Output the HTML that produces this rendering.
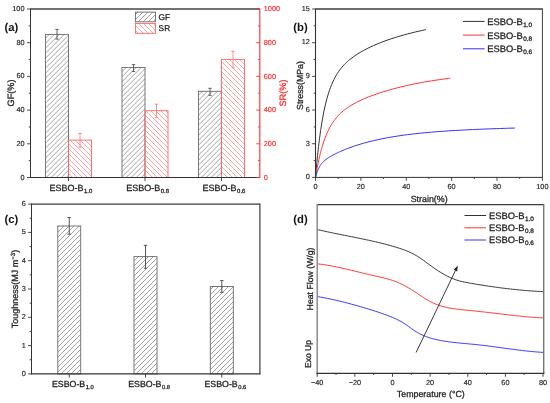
<!DOCTYPE html><html><head><meta charset="utf-8"><style>html,body{margin:0;padding:0;background:#fff;overflow:hidden}svg{display:block;will-change:transform}text{font-family:"Liberation Sans",sans-serif;text-rendering:geometricPrecision;stroke:currentColor;stroke-width:0.28px;paint-order:stroke}.t{stroke-width:0.15px}</style></head><body>
<svg width="550" height="403" viewBox="0 0 550 403">
<rect width="550" height="403" fill="#fff"/>
<defs>
<pattern id="hg" patternUnits="userSpaceOnUse" width="5" height="5" x="3.7" y="0"><path d="M-1,1 L1,-1 M0,5 L5,0 M4,6 L6,4" stroke="#a2a2a2" stroke-width="1.0"/></pattern>
<pattern id="hg2" patternUnits="userSpaceOnUse" width="5" height="5" x="0" y="0"><path d="M-1,1 L1,-1 M0,5 L5,0 M4,6 L6,4" stroke="#a2a2a2" stroke-width="1.0"/></pattern>
<pattern id="hr" patternUnits="userSpaceOnUse" width="5" height="5" x="0" y="0"><path d="M-1,4 L1,6 M0,0 L5,5 M4,-1 L6,1" stroke="#ffa4a4" stroke-width="1.0"/></pattern>
</defs>
<rect x="45.5" y="34.4" width="23.00" height="143.10" fill="url(#hg)" stroke="#6a6a6a" stroke-width="0.9"/>
<rect x="122.0" y="67.5" width="23.00" height="110.00" fill="url(#hg)" stroke="#6a6a6a" stroke-width="0.9"/>
<rect x="198.5" y="91.3" width="23.00" height="86.20" fill="url(#hg)" stroke="#6a6a6a" stroke-width="0.9"/>
<rect x="68.5" y="140.1" width="23.00" height="37.40" fill="url(#hr)" stroke="#ff6464" stroke-width="0.9"/>
<rect x="145.0" y="110.7" width="23.00" height="66.80" fill="url(#hr)" stroke="#ff6464" stroke-width="0.9"/>
<rect x="221.5" y="59.4" width="23.00" height="118.10" fill="url(#hr)" stroke="#ff6464" stroke-width="0.9"/>
<line x1="57.00" y1="29.40" x2="57.00" y2="39.10" stroke="#555" stroke-width="0.9"/>
<line x1="55.30" y1="29.40" x2="58.70" y2="29.40" stroke="#555" stroke-width="0.9"/>
<line x1="55.30" y1="39.10" x2="58.70" y2="39.10" stroke="#555" stroke-width="0.9"/>
<line x1="133.50" y1="64.60" x2="133.50" y2="71.50" stroke="#555" stroke-width="0.9"/>
<line x1="131.80" y1="64.60" x2="135.20" y2="64.60" stroke="#555" stroke-width="0.9"/>
<line x1="131.80" y1="71.50" x2="135.20" y2="71.50" stroke="#555" stroke-width="0.9"/>
<line x1="210.00" y1="88.30" x2="210.00" y2="95.30" stroke="#555" stroke-width="0.9"/>
<line x1="208.30" y1="88.30" x2="211.70" y2="88.30" stroke="#555" stroke-width="0.9"/>
<line x1="208.30" y1="95.30" x2="211.70" y2="95.30" stroke="#555" stroke-width="0.9"/>
<line x1="80.00" y1="133.40" x2="80.00" y2="147.20" stroke="#ff8080" stroke-width="0.9"/>
<line x1="78.30" y1="133.40" x2="81.70" y2="133.40" stroke="#ff8080" stroke-width="0.9"/>
<line x1="78.30" y1="147.20" x2="81.70" y2="147.20" stroke="#ff8080" stroke-width="0.9"/>
<line x1="156.50" y1="104.20" x2="156.50" y2="117.60" stroke="#ff8080" stroke-width="0.9"/>
<line x1="154.80" y1="104.20" x2="158.20" y2="104.20" stroke="#ff8080" stroke-width="0.9"/>
<line x1="154.80" y1="117.60" x2="158.20" y2="117.60" stroke="#ff8080" stroke-width="0.9"/>
<line x1="233.00" y1="51.30" x2="233.00" y2="67.80" stroke="#ff8080" stroke-width="0.9"/>
<line x1="231.30" y1="51.30" x2="234.70" y2="51.30" stroke="#ff8080" stroke-width="0.9"/>
<line x1="231.30" y1="67.80" x2="234.70" y2="67.80" stroke="#ff8080" stroke-width="0.9"/>
<line x1="30.50" y1="9.00" x2="259.80" y2="9.00" stroke="#444" stroke-width="1.4"/>
<line x1="30.50" y1="8.50" x2="30.50" y2="178.00" stroke="#333" stroke-width="1.0"/>
<line x1="30.00" y1="177.50" x2="259.80" y2="177.50" stroke="#333" stroke-width="1.0"/>
<line x1="259.80" y1="8.40" x2="259.80" y2="178.00" stroke="#ff4a4a" stroke-width="1.3"/>
<line x1="27.10" y1="177.50" x2="30.50" y2="177.50" stroke="#333" stroke-width="0.9"/>
<text class="t" x="24.50" y="179.50" font-size="7.3" text-anchor="end" fill="#222" color="#222">0</text>
<line x1="28.70" y1="160.65" x2="30.50" y2="160.65" stroke="#333" stroke-width="0.9"/>
<line x1="27.10" y1="143.80" x2="30.50" y2="143.80" stroke="#333" stroke-width="0.9"/>
<text class="t" x="24.50" y="145.80" font-size="7.3" text-anchor="end" fill="#222" color="#222">20</text>
<line x1="28.70" y1="126.95" x2="30.50" y2="126.95" stroke="#333" stroke-width="0.9"/>
<line x1="27.10" y1="110.10" x2="30.50" y2="110.10" stroke="#333" stroke-width="0.9"/>
<text class="t" x="24.50" y="112.10" font-size="7.3" text-anchor="end" fill="#222" color="#222">40</text>
<line x1="28.70" y1="93.25" x2="30.50" y2="93.25" stroke="#333" stroke-width="0.9"/>
<line x1="27.10" y1="76.40" x2="30.50" y2="76.40" stroke="#333" stroke-width="0.9"/>
<text class="t" x="24.50" y="78.40" font-size="7.3" text-anchor="end" fill="#222" color="#222">60</text>
<line x1="28.70" y1="59.55" x2="30.50" y2="59.55" stroke="#333" stroke-width="0.9"/>
<line x1="27.10" y1="42.70" x2="30.50" y2="42.70" stroke="#333" stroke-width="0.9"/>
<text class="t" x="24.50" y="44.70" font-size="7.3" text-anchor="end" fill="#222" color="#222">80</text>
<line x1="28.70" y1="25.85" x2="30.50" y2="25.85" stroke="#333" stroke-width="0.9"/>
<line x1="27.10" y1="9.00" x2="30.50" y2="9.00" stroke="#333" stroke-width="0.9"/>
<text class="t" x="24.50" y="11.00" font-size="7.3" text-anchor="end" fill="#222" color="#222">100</text>
<line x1="256.30" y1="177.50" x2="259.80" y2="177.50" stroke="#ff2a2a" stroke-width="0.9"/>
<text class="t" x="263.80" y="179.70" font-size="7.3" text-anchor="start" fill="#ff2a2a" color="#ff2a2a">0</text>
<line x1="258.00" y1="160.65" x2="259.80" y2="160.65" stroke="#ff2a2a" stroke-width="0.9"/>
<line x1="256.30" y1="143.80" x2="259.80" y2="143.80" stroke="#ff2a2a" stroke-width="0.9"/>
<text class="t" x="263.80" y="146.00" font-size="7.3" text-anchor="start" fill="#ff2a2a" color="#ff2a2a">200</text>
<line x1="258.00" y1="126.95" x2="259.80" y2="126.95" stroke="#ff2a2a" stroke-width="0.9"/>
<line x1="256.30" y1="110.10" x2="259.80" y2="110.10" stroke="#ff2a2a" stroke-width="0.9"/>
<text class="t" x="263.80" y="112.30" font-size="7.3" text-anchor="start" fill="#ff2a2a" color="#ff2a2a">400</text>
<line x1="258.00" y1="93.25" x2="259.80" y2="93.25" stroke="#ff2a2a" stroke-width="0.9"/>
<line x1="256.30" y1="76.40" x2="259.80" y2="76.40" stroke="#ff2a2a" stroke-width="0.9"/>
<text class="t" x="263.80" y="78.60" font-size="7.3" text-anchor="start" fill="#ff2a2a" color="#ff2a2a">600</text>
<line x1="258.00" y1="59.55" x2="259.80" y2="59.55" stroke="#ff2a2a" stroke-width="0.9"/>
<line x1="256.30" y1="42.70" x2="259.80" y2="42.70" stroke="#ff2a2a" stroke-width="0.9"/>
<text class="t" x="263.80" y="44.90" font-size="7.3" text-anchor="start" fill="#ff2a2a" color="#ff2a2a">800</text>
<line x1="258.00" y1="25.85" x2="259.80" y2="25.85" stroke="#ff2a2a" stroke-width="0.9"/>
<line x1="256.30" y1="9.00" x2="259.80" y2="9.00" stroke="#ff2a2a" stroke-width="0.9"/>
<text class="t" x="263.80" y="11.20" font-size="7.3" text-anchor="start" fill="#ff2a2a" color="#ff2a2a">1000</text>
<line x1="68.50" y1="177.50" x2="68.50" y2="181.10" stroke="#333" stroke-width="0.9"/>
<line x1="145.00" y1="177.50" x2="145.00" y2="181.10" stroke="#333" stroke-width="0.9"/>
<line x1="221.50" y1="177.50" x2="221.50" y2="181.10" stroke="#333" stroke-width="0.9"/>
<text x="49.50" y="191.00" font-size="9" fill="#222" color="#222">ESBO-B<tspan font-size="5.94" dy="1.80" dx="0.5">1.0</tspan></text>
<text x="126.20" y="191.00" font-size="9" fill="#222" color="#222">ESBO-B<tspan font-size="5.94" dy="1.80" dx="0.5">0.8</tspan></text>
<text x="202.60" y="191.00" font-size="9" fill="#222" color="#222">ESBO-B<tspan font-size="5.94" dy="1.80" dx="0.5">0.6</tspan></text>
<text transform="translate(14.30,93.00) rotate(-90)" font-size="9.2" text-anchor="middle" fill="#222" color="#222">GF(%)</text>
<text transform="translate(285.80,93.00) rotate(-90)" font-size="9.2" text-anchor="middle" fill="#ff2a2a" color="#ff2a2a">SR(%)</text>
<text x="4.55" y="30.7" font-size="11.3" font-weight="bold" fill="#111" style="stroke:none">(a)</text>
<rect x="135.5" y="12.1" width="20" height="9.7" fill="url(#hg2)" stroke="#6a6a6a" stroke-width="0.9"/>
<rect x="135.5" y="23.4" width="20" height="9.9" fill="url(#hr)" stroke="#ff6464" stroke-width="0.9"/>
<text x="158.60" y="20.30" font-size="8.3" text-anchor="start" fill="#222" color="#222">GF</text>
<text x="158.60" y="31.30" font-size="8.3" text-anchor="start" fill="#222" color="#222">SR</text>
<polyline points="315.50,177.40 315.84,173.42 316.18,169.58 316.52,165.88 316.86,162.32 317.20,158.89 317.54,155.59 317.88,152.40 318.22,149.33 318.56,146.37 318.90,143.52 319.24,140.77 319.58,138.11 319.92,135.55 320.26,133.09 320.61,130.70 320.95,128.41 321.29,126.19 321.63,124.05 321.97,121.98 322.31,119.98 322.65,118.06 323.78,112.09 324.92,106.76 326.05,101.99 327.19,97.71 328.32,93.86 329.45,90.38 330.59,87.24 331.72,84.39 332.86,81.79 333.99,79.41 335.13,77.24 336.26,75.24 337.40,73.39 338.53,71.68 339.66,70.09 340.80,68.61 341.93,67.23 343.07,65.93 344.20,64.70 345.34,63.55 346.47,62.45 347.61,61.41 348.74,60.42 349.88,59.48 353.28,56.87 356.68,54.54 360.09,52.44 363.49,50.51 366.89,48.72 370.30,47.06 373.70,45.51 377.10,44.05 380.51,42.67 383.91,41.37 387.31,40.14 390.72,38.97 394.12,37.86 397.52,36.80 400.93,35.79 404.33,34.83 407.73,33.92 411.14,33.04 414.54,32.20 417.95,31.39 421.35,30.61 424.75,29.87 426.00,29.60" fill="none" stroke="#333" stroke-width="1.0" stroke-linejoin="round"/>
<polyline points="315.50,177.40 315.84,175.35 316.18,173.36 316.52,171.43 316.86,169.56 317.20,167.75 317.54,165.99 317.88,164.29 318.22,162.63 318.56,161.03 318.90,159.48 319.24,157.97 319.58,156.50 319.92,155.08 320.26,153.71 320.61,152.37 320.95,151.07 321.29,149.81 321.63,148.58 321.97,147.39 322.31,146.24 322.65,145.12 323.78,141.60 324.92,138.40 326.05,135.48 327.19,132.81 328.32,130.37 329.45,128.12 330.59,126.06 331.72,124.16 332.86,122.40 333.99,120.77 335.13,119.26 336.26,117.85 337.40,116.53 338.53,115.30 339.66,114.14 340.80,113.05 341.93,112.02 343.07,111.05 344.20,110.13 345.34,109.25 346.47,108.42 347.61,107.62 348.74,106.86 349.88,106.13 353.28,104.09 356.68,102.26 360.09,100.59 363.49,99.05 366.89,97.61 370.30,96.27 373.70,95.00 377.10,93.80 380.51,92.67 383.91,91.59 387.31,90.57 390.72,89.59 394.12,88.67 397.52,87.78 400.93,86.93 404.33,86.13 407.73,85.36 411.14,84.62 414.54,83.92 417.95,83.25 421.35,82.60 424.75,81.99 428.16,81.41 431.56,80.85 434.96,80.31 438.37,79.80 441.77,79.32 445.17,78.85 448.58,78.40 450.28,78.19" fill="none" stroke="#ff3333" stroke-width="1.0" stroke-linejoin="round"/>
<polyline points="315.50,177.40 315.84,176.11 316.18,174.91 316.52,173.80 316.86,172.77 317.20,171.81 317.54,170.91 317.88,170.08 318.22,169.30 318.56,168.57 318.90,167.88 319.24,167.24 319.58,166.64 319.92,166.07 320.26,165.53 320.61,165.02 320.95,164.54 321.29,164.09 321.63,163.65 321.97,163.24 322.31,162.84 322.65,162.47 323.78,161.32 324.92,160.31 326.05,159.40 327.19,158.57 328.32,157.80 329.45,157.08 330.59,156.40 331.72,155.75 332.86,155.13 333.99,154.53 335.13,153.96 336.26,153.39 337.40,152.85 338.53,152.32 339.66,151.80 340.80,151.29 341.93,150.80 343.07,150.32 344.20,149.85 345.34,149.39 346.47,148.94 347.61,148.50 348.74,148.07 349.88,147.65 353.28,146.44 356.68,145.30 360.09,144.24 363.49,143.24 366.89,142.30 370.30,141.42 373.70,140.60 377.10,139.82 380.51,139.10 383.91,138.41 387.31,137.77 390.72,137.17 394.12,136.60 397.52,136.07 400.93,135.56 404.33,135.09 407.73,134.64 411.14,134.22 414.54,133.83 417.95,133.45 421.35,133.10 424.75,132.77 428.16,132.45 431.56,132.16 434.96,131.87 438.37,131.61 441.77,131.36 445.17,131.12 448.58,130.89 451.98,130.67 455.38,130.47 458.79,130.27 462.19,130.09 465.59,129.91 469.00,129.74 472.40,129.58 475.80,129.43 479.21,129.28 482.61,129.14 486.02,129.00 489.42,128.87 492.82,128.75 496.23,128.63 499.63,128.51 503.03,128.40 506.44,128.29 509.84,128.19 513.24,128.09 514.95,128.04" fill="none" stroke="#3333ff" stroke-width="1.0" stroke-linejoin="round"/>
<line x1="315.50" y1="9.00" x2="542.40" y2="9.00" stroke="#3c3c3c" stroke-width="1.3"/>
<line x1="542.40" y1="8.50" x2="542.40" y2="177.40" stroke="#3c3c3c" stroke-width="1.0"/>
<line x1="315.50" y1="8.50" x2="315.50" y2="177.90" stroke="#333" stroke-width="1.1"/>
<line x1="315.00" y1="177.40" x2="542.90" y2="177.40" stroke="#333" stroke-width="1.0"/>
<line x1="312.10" y1="177.40" x2="315.50" y2="177.40" stroke="#333" stroke-width="0.9"/>
<text class="t" x="309.90" y="179.20" font-size="7.3" text-anchor="end" fill="#222" color="#222">0</text>
<line x1="313.70" y1="160.56" x2="315.50" y2="160.56" stroke="#333" stroke-width="0.9"/>
<line x1="312.10" y1="143.72" x2="315.50" y2="143.72" stroke="#333" stroke-width="0.9"/>
<text class="t" x="309.90" y="145.52" font-size="7.3" text-anchor="end" fill="#222" color="#222">3</text>
<line x1="313.70" y1="126.88" x2="315.50" y2="126.88" stroke="#333" stroke-width="0.9"/>
<line x1="312.10" y1="110.04" x2="315.50" y2="110.04" stroke="#333" stroke-width="0.9"/>
<text class="t" x="309.90" y="111.84" font-size="7.3" text-anchor="end" fill="#222" color="#222">6</text>
<line x1="313.70" y1="93.20" x2="315.50" y2="93.20" stroke="#333" stroke-width="0.9"/>
<line x1="312.10" y1="76.36" x2="315.50" y2="76.36" stroke="#333" stroke-width="0.9"/>
<text class="t" x="309.90" y="78.16" font-size="7.3" text-anchor="end" fill="#222" color="#222">9</text>
<line x1="313.70" y1="59.52" x2="315.50" y2="59.52" stroke="#333" stroke-width="0.9"/>
<line x1="312.10" y1="42.68" x2="315.50" y2="42.68" stroke="#333" stroke-width="0.9"/>
<text class="t" x="309.90" y="44.48" font-size="7.3" text-anchor="end" fill="#222" color="#222">12</text>
<line x1="313.70" y1="25.84" x2="315.50" y2="25.84" stroke="#333" stroke-width="0.9"/>
<line x1="312.10" y1="9.00" x2="315.50" y2="9.00" stroke="#333" stroke-width="0.9"/>
<text class="t" x="309.90" y="10.80" font-size="7.3" text-anchor="end" fill="#222" color="#222">15</text>
<line x1="315.50" y1="177.40" x2="315.50" y2="180.80" stroke="#333" stroke-width="0.9"/>
<text class="t" x="315.50" y="188.50" font-size="7.3" text-anchor="middle" fill="#222" color="#222">0</text>
<line x1="338.19" y1="177.40" x2="338.19" y2="179.00" stroke="#333" stroke-width="0.9"/>
<line x1="360.88" y1="177.40" x2="360.88" y2="180.80" stroke="#333" stroke-width="0.9"/>
<text class="t" x="360.88" y="188.50" font-size="7.3" text-anchor="middle" fill="#222" color="#222">20</text>
<line x1="383.57" y1="177.40" x2="383.57" y2="179.00" stroke="#333" stroke-width="0.9"/>
<line x1="406.26" y1="177.40" x2="406.26" y2="180.80" stroke="#333" stroke-width="0.9"/>
<text class="t" x="406.26" y="188.50" font-size="7.3" text-anchor="middle" fill="#222" color="#222">40</text>
<line x1="428.95" y1="177.40" x2="428.95" y2="179.00" stroke="#333" stroke-width="0.9"/>
<line x1="451.64" y1="177.40" x2="451.64" y2="180.80" stroke="#333" stroke-width="0.9"/>
<text class="t" x="451.64" y="188.50" font-size="7.3" text-anchor="middle" fill="#222" color="#222">60</text>
<line x1="474.33" y1="177.40" x2="474.33" y2="179.00" stroke="#333" stroke-width="0.9"/>
<line x1="497.02" y1="177.40" x2="497.02" y2="180.80" stroke="#333" stroke-width="0.9"/>
<text class="t" x="497.02" y="188.50" font-size="7.3" text-anchor="middle" fill="#222" color="#222">80</text>
<line x1="519.71" y1="177.40" x2="519.71" y2="179.00" stroke="#333" stroke-width="0.9"/>
<line x1="542.40" y1="177.40" x2="542.40" y2="180.80" stroke="#333" stroke-width="0.9"/>
<text class="t" x="542.40" y="188.50" font-size="7.3" text-anchor="middle" fill="#222" color="#222">100</text>
<text transform="translate(303.20,85.50) rotate(-90)" font-size="8.8" text-anchor="middle" fill="#222" color="#222">Stress(MPa)</text>
<text x="429.20" y="202.40" font-size="8.9" text-anchor="middle" fill="#222" color="#222">Strain(%)</text>
<text x="293.25" y="30.7" font-size="11.3" font-weight="bold" fill="#111" style="stroke:none">(b)</text>
<line x1="463.00" y1="21.40" x2="484.60" y2="21.40" stroke="#333" stroke-width="1.0"/>
<text x="487.30" y="24.70" font-size="9.4" fill="#222" color="#222">ESBO-B<tspan font-size="6.39" dy="2.00" dx="0.5">1.0</tspan></text>
<line x1="463.00" y1="35.10" x2="484.60" y2="35.10" stroke="#ff3333" stroke-width="1.0"/>
<text x="487.30" y="38.70" font-size="9.4" fill="#222" color="#222">ESBO-B<tspan font-size="6.39" dy="2.00" dx="0.5">0.8</tspan></text>
<line x1="463.00" y1="48.80" x2="484.60" y2="48.80" stroke="#3333ff" stroke-width="1.0"/>
<text x="487.30" y="52.30" font-size="9.4" fill="#222" color="#222">ESBO-B<tspan font-size="6.39" dy="2.00" dx="0.5">0.6</tspan></text>
<rect x="57.8" y="226.0" width="22.90" height="147.90" fill="url(#hg2)" stroke="#6a6a6a" stroke-width="0.9"/>
<rect x="134.0" y="256.6" width="23.00" height="117.30" fill="url(#hg2)" stroke="#6a6a6a" stroke-width="0.9"/>
<rect x="210.3" y="286.5" width="23.00" height="87.40" fill="url(#hg2)" stroke="#6a6a6a" stroke-width="0.9"/>
<line x1="69.25" y1="217.50" x2="69.25" y2="234.20" stroke="#444" stroke-width="0.9"/>
<line x1="67.55" y1="217.50" x2="70.95" y2="217.50" stroke="#444" stroke-width="0.9"/>
<line x1="67.55" y1="234.20" x2="70.95" y2="234.20" stroke="#444" stroke-width="0.9"/>
<line x1="145.50" y1="245.40" x2="145.50" y2="268.30" stroke="#444" stroke-width="0.9"/>
<line x1="143.80" y1="245.40" x2="147.20" y2="245.40" stroke="#444" stroke-width="0.9"/>
<line x1="143.80" y1="268.30" x2="147.20" y2="268.30" stroke="#444" stroke-width="0.9"/>
<line x1="221.80" y1="280.60" x2="221.80" y2="292.30" stroke="#444" stroke-width="0.9"/>
<line x1="220.10" y1="280.60" x2="223.50" y2="280.60" stroke="#444" stroke-width="0.9"/>
<line x1="220.10" y1="292.30" x2="223.50" y2="292.30" stroke="#444" stroke-width="0.9"/>
<line x1="31.50" y1="204.10" x2="259.90" y2="204.10" stroke="#3c3c3c" stroke-width="1.2"/>
<line x1="259.90" y1="203.50" x2="259.90" y2="373.90" stroke="#3c3c3c" stroke-width="1.2"/>
<line x1="31.50" y1="203.50" x2="31.50" y2="374.40" stroke="#333" stroke-width="1.0"/>
<line x1="31.00" y1="373.90" x2="260.50" y2="373.90" stroke="#333" stroke-width="1.1"/>
<line x1="28.10" y1="373.90" x2="31.50" y2="373.90" stroke="#333" stroke-width="0.9"/>
<text class="t" x="25.90" y="375.90" font-size="7.3" text-anchor="end" fill="#222" color="#222">0</text>
<line x1="29.70" y1="359.75" x2="31.50" y2="359.75" stroke="#333" stroke-width="0.9"/>
<line x1="28.10" y1="345.60" x2="31.50" y2="345.60" stroke="#333" stroke-width="0.9"/>
<text class="t" x="25.90" y="347.60" font-size="7.3" text-anchor="end" fill="#222" color="#222">1</text>
<line x1="29.70" y1="331.45" x2="31.50" y2="331.45" stroke="#333" stroke-width="0.9"/>
<line x1="28.10" y1="317.30" x2="31.50" y2="317.30" stroke="#333" stroke-width="0.9"/>
<text class="t" x="25.90" y="319.30" font-size="7.3" text-anchor="end" fill="#222" color="#222">2</text>
<line x1="29.70" y1="303.15" x2="31.50" y2="303.15" stroke="#333" stroke-width="0.9"/>
<line x1="28.10" y1="289.00" x2="31.50" y2="289.00" stroke="#333" stroke-width="0.9"/>
<text class="t" x="25.90" y="291.00" font-size="7.3" text-anchor="end" fill="#222" color="#222">3</text>
<line x1="29.70" y1="274.85" x2="31.50" y2="274.85" stroke="#333" stroke-width="0.9"/>
<line x1="28.10" y1="260.70" x2="31.50" y2="260.70" stroke="#333" stroke-width="0.9"/>
<text class="t" x="25.90" y="262.70" font-size="7.3" text-anchor="end" fill="#222" color="#222">4</text>
<line x1="29.70" y1="246.55" x2="31.50" y2="246.55" stroke="#333" stroke-width="0.9"/>
<line x1="28.10" y1="232.40" x2="31.50" y2="232.40" stroke="#333" stroke-width="0.9"/>
<text class="t" x="25.90" y="234.40" font-size="7.3" text-anchor="end" fill="#222" color="#222">5</text>
<line x1="29.70" y1="218.25" x2="31.50" y2="218.25" stroke="#333" stroke-width="0.9"/>
<line x1="28.10" y1="204.10" x2="31.50" y2="204.10" stroke="#333" stroke-width="0.9"/>
<text class="t" x="25.90" y="206.10" font-size="7.3" text-anchor="end" fill="#222" color="#222">6</text>
<line x1="69.25" y1="373.90" x2="69.25" y2="377.50" stroke="#333" stroke-width="0.9"/>
<line x1="145.50" y1="373.90" x2="145.50" y2="377.50" stroke="#333" stroke-width="0.9"/>
<line x1="221.80" y1="373.90" x2="221.80" y2="377.50" stroke="#333" stroke-width="0.9"/>
<text x="51.95" y="386.60" font-size="8.8" fill="#222" color="#222">ESBO-B<tspan font-size="5.81" dy="2.64" dx="0.5">1.0</tspan></text>
<text x="128.20" y="386.60" font-size="8.8" fill="#222" color="#222">ESBO-B<tspan font-size="5.81" dy="2.64" dx="0.5">0.8</tspan></text>
<text x="204.50" y="386.60" font-size="8.8" fill="#222" color="#222">ESBO-B<tspan font-size="5.81" dy="2.64" dx="0.5">0.6</tspan></text>
<text transform="translate(18.0,289) rotate(-90)" font-size="9.0" text-anchor="middle" fill="#222" color="#222">Toughness(MJ m<tspan font-size="6" dy="-3.5">−3</tspan><tspan dy="3.5">)</tspan></text>
<text x="4.55" y="223.3" font-size="11.3" font-weight="bold" fill="#111" style="stroke:none">(c)</text>
<polyline points="317.20,229.48 318.70,229.84 320.20,230.19 321.70,230.54 323.20,230.88 324.70,231.21 326.20,231.55 327.70,231.87 329.20,232.20 330.70,232.52 332.20,232.83 333.70,233.14 335.20,233.45 336.70,233.76 338.20,234.06 339.70,234.37 341.20,234.67 342.70,234.97 344.20,235.27 345.70,235.57 347.20,235.86 348.70,236.16 350.20,236.46 351.70,236.76 353.20,237.05 354.70,237.35 356.20,237.66 357.70,237.96 359.20,238.26 360.70,238.57 362.20,238.88 363.70,239.19 365.20,239.51 366.70,239.83 368.20,240.15 369.70,240.48 371.20,240.81 372.70,241.15 374.20,241.49 375.70,241.84 377.20,242.19 378.70,242.55 380.20,242.91 381.70,243.29 383.20,243.66 384.70,244.05 386.20,244.44 387.70,244.85 389.20,245.25 390.70,245.67 392.20,246.10 393.70,246.53 395.20,246.98 396.70,247.43 398.20,247.90 399.70,248.38 401.20,248.88 402.70,249.40 404.20,249.94 405.70,250.51 407.20,251.11 408.70,251.75 410.20,252.42 411.70,253.14 413.20,253.89 414.70,254.70 416.20,255.55 417.70,256.46 419.20,257.41 420.70,258.41 422.20,259.45 423.70,260.51 425.20,261.60 426.70,262.70 428.20,263.81 429.70,264.92 431.20,266.02 432.70,267.11 434.20,268.18 435.70,269.22 437.20,270.23 438.70,271.20 440.20,272.14 441.70,273.05 443.20,273.93 444.70,274.77 446.20,275.57 447.70,276.33 449.20,277.06 450.70,277.75 452.20,278.39 453.70,279.00 455.20,279.56 456.70,280.08 458.20,280.56 459.70,280.99 461.20,281.38 462.70,281.73 464.20,282.06 465.70,282.36 467.20,282.64 468.70,282.91 470.20,283.18 471.70,283.43 473.20,283.69 474.70,283.94 476.20,284.19 477.70,284.44 479.20,284.69 480.70,284.93 482.20,285.17 483.70,285.40 485.20,285.63 486.70,285.86 488.20,286.09 489.70,286.31 491.20,286.53 492.70,286.75 494.20,286.96 495.70,287.17 497.20,287.37 498.70,287.57 500.20,287.77 501.70,287.97 503.20,288.16 504.70,288.34 506.20,288.53 507.70,288.70 509.20,288.88 510.70,289.05 512.20,289.22 513.70,289.38 515.20,289.54 516.70,289.69 518.20,289.84 519.70,289.98 521.20,290.12 522.70,290.26 524.20,290.39 525.70,290.52 527.20,290.64 528.70,290.76 530.20,290.87 531.70,290.98 533.20,291.08 534.70,291.18 536.20,291.27 537.70,291.36 539.20,291.44 540.70,291.52 542.20,291.59 543.30,291.64" fill="none" stroke="#333" stroke-width="1.0" stroke-linejoin="round"/>
<polyline points="317.20,263.76 318.70,263.94 320.20,264.13 321.70,264.33 323.20,264.55 324.70,264.78 326.20,265.02 327.70,265.27 329.20,265.53 330.70,265.80 332.20,266.08 333.70,266.37 335.20,266.67 336.70,266.98 338.20,267.29 339.70,267.61 341.20,267.94 342.70,268.27 344.20,268.61 345.70,268.95 347.20,269.30 348.70,269.65 350.20,270.00 351.70,270.36 353.20,270.72 354.70,271.09 356.20,271.45 357.70,271.82 359.20,272.18 360.70,272.55 362.20,272.91 363.70,273.28 365.20,273.64 366.70,274.01 368.20,274.37 369.70,274.72 371.20,275.08 372.70,275.43 374.20,275.77 375.70,276.12 377.20,276.45 378.70,276.79 380.20,277.13 381.70,277.47 383.20,277.82 384.70,278.19 386.20,278.57 387.70,278.96 389.20,279.39 390.70,279.83 392.20,280.31 393.70,280.82 395.20,281.36 396.70,281.95 398.20,282.57 399.70,283.24 401.20,283.94 402.70,284.68 404.20,285.45 405.70,286.25 407.20,287.09 408.70,287.95 410.20,288.85 411.70,289.77 413.20,290.71 414.70,291.67 416.20,292.66 417.70,293.67 419.20,294.69 420.70,295.71 422.20,296.72 423.70,297.71 425.20,298.68 426.70,299.60 428.20,300.47 429.70,301.29 431.20,302.06 432.70,302.77 434.20,303.44 435.70,304.06 437.20,304.64 438.70,305.18 440.20,305.68 441.70,306.14 443.20,306.56 444.70,306.95 446.20,307.31 447.70,307.65 449.20,307.95 450.70,308.23 452.20,308.49 453.70,308.72 455.20,308.94 456.70,309.14 458.20,309.32 459.70,309.50 461.20,309.66 462.70,309.81 464.20,309.96 465.70,310.10 467.20,310.24 468.70,310.39 470.20,310.53 471.70,310.68 473.20,310.83 474.70,310.98 476.20,311.14 477.70,311.30 479.20,311.46 480.70,311.63 482.20,311.79 483.70,311.96 485.20,312.13 486.70,312.31 488.20,312.48 489.70,312.66 491.20,312.83 492.70,313.01 494.20,313.19 495.70,313.37 497.20,313.54 498.70,313.72 500.20,313.90 501.70,314.08 503.20,314.25 504.70,314.43 506.20,314.60 507.70,314.78 509.20,314.95 510.70,315.12 512.20,315.29 513.70,315.45 515.20,315.61 516.70,315.77 518.20,315.93 519.70,316.09 521.20,316.24 522.70,316.39 524.20,316.53 525.70,316.67 527.20,316.80 528.70,316.94 530.20,317.06 531.70,317.18 533.20,317.30 534.70,317.41 536.20,317.52 537.70,317.62 539.20,317.71 540.70,317.80 542.20,317.88 543.30,317.94" fill="none" stroke="#ff3333" stroke-width="1.0" stroke-linejoin="round"/>
<polyline points="317.20,296.52 318.70,296.77 320.20,297.03 321.70,297.30 323.20,297.58 324.70,297.86 326.20,298.16 327.70,298.46 329.20,298.77 330.70,299.08 332.20,299.41 333.70,299.74 335.20,300.08 336.70,300.42 338.20,300.77 339.70,301.13 341.20,301.50 342.70,301.87 344.20,302.24 345.70,302.62 347.20,303.01 348.70,303.41 350.20,303.80 351.70,304.21 353.20,304.62 354.70,305.03 356.20,305.45 357.70,305.87 359.20,306.30 360.70,306.73 362.20,307.16 363.70,307.60 365.20,308.04 366.70,308.49 368.20,308.94 369.70,309.40 371.20,309.87 372.70,310.34 374.20,310.82 375.70,311.31 377.20,311.81 378.70,312.32 380.20,312.83 381.70,313.36 383.20,313.89 384.70,314.44 386.20,314.99 387.70,315.56 389.20,316.14 390.70,316.73 392.20,317.34 393.70,317.97 395.20,318.62 396.70,319.31 398.20,320.04 399.70,320.80 401.20,321.62 402.70,322.50 404.20,323.43 405.70,324.43 407.20,325.48 408.70,326.57 410.20,327.68 411.70,328.77 413.20,329.83 414.70,330.84 416.20,331.78 417.70,332.66 419.20,333.48 420.70,334.25 422.20,334.96 423.70,335.63 425.20,336.25 426.70,336.82 428.20,337.35 429.70,337.84 431.20,338.29 432.70,338.72 434.20,339.11 435.70,339.47 437.20,339.80 438.70,340.12 440.20,340.41 441.70,340.69 443.20,340.95 444.70,341.19 446.20,341.43 447.70,341.64 449.20,341.85 450.70,342.05 452.20,342.23 453.70,342.41 455.20,342.58 456.70,342.74 458.20,342.89 459.70,343.04 461.20,343.19 462.70,343.33 464.20,343.47 465.70,343.60 467.20,343.74 468.70,343.88 470.20,344.02 471.70,344.16 473.20,344.30 474.70,344.45 476.20,344.60 477.70,344.76 479.20,344.92 480.70,345.09 482.20,345.27 483.70,345.44 485.20,345.63 486.70,345.81 488.20,346.00 489.70,346.19 491.20,346.39 492.70,346.59 494.20,346.79 495.70,346.99 497.20,347.19 498.70,347.40 500.20,347.60 501.70,347.81 503.20,348.02 504.70,348.22 506.20,348.43 507.70,348.63 509.20,348.83 510.70,349.04 512.20,349.24 513.70,349.43 515.20,349.63 516.70,349.82 518.20,350.01 519.70,350.20 521.20,350.38 522.70,350.56 524.20,350.73 525.70,350.90 527.20,351.06 528.70,351.22 530.20,351.37 531.70,351.51 533.20,351.65 534.70,351.78 536.20,351.91 537.70,352.03 539.20,352.14 540.70,352.24 542.20,352.33 543.30,352.39" fill="none" stroke="#3333ff" stroke-width="1.0" stroke-linejoin="round"/>
<line x1="416.10" y1="352.50" x2="455.42" y2="270.56" stroke="#222" stroke-width="0.9"/>
<polygon points="457.80,265.60 457.22,271.42 453.62,269.69" fill="#222"/>
<line x1="317.20" y1="204.60" x2="543.70" y2="204.60" stroke="#3c3c3c" stroke-width="1.2"/>
<line x1="543.70" y1="204.00" x2="543.70" y2="373.40" stroke="#777" stroke-width="1.4"/>
<line x1="317.20" y1="204.00" x2="317.20" y2="373.90" stroke="#8a8a8a" stroke-width="1.5"/>
<line x1="316.50" y1="373.40" x2="544.40" y2="373.40" stroke="#333" stroke-width="1.1"/>
<line x1="317.20" y1="373.40" x2="317.20" y2="376.80" stroke="#333" stroke-width="0.9"/>
<text class="t" x="317.20" y="384.60" font-size="7.3" text-anchor="middle" fill="#222" color="#222">−40</text>
<line x1="336.02" y1="373.40" x2="336.02" y2="375.00" stroke="#333" stroke-width="0.9"/>
<line x1="354.84" y1="373.40" x2="354.84" y2="376.80" stroke="#333" stroke-width="0.9"/>
<text class="t" x="354.84" y="384.60" font-size="7.3" text-anchor="middle" fill="#222" color="#222">−20</text>
<line x1="373.66" y1="373.40" x2="373.66" y2="375.00" stroke="#333" stroke-width="0.9"/>
<line x1="392.48" y1="373.40" x2="392.48" y2="376.80" stroke="#333" stroke-width="0.9"/>
<text class="t" x="392.48" y="384.60" font-size="7.3" text-anchor="middle" fill="#222" color="#222">0</text>
<line x1="411.30" y1="373.40" x2="411.30" y2="375.00" stroke="#333" stroke-width="0.9"/>
<line x1="430.12" y1="373.40" x2="430.12" y2="376.80" stroke="#333" stroke-width="0.9"/>
<text class="t" x="430.12" y="384.60" font-size="7.3" text-anchor="middle" fill="#222" color="#222">20</text>
<line x1="448.94" y1="373.40" x2="448.94" y2="375.00" stroke="#333" stroke-width="0.9"/>
<line x1="467.76" y1="373.40" x2="467.76" y2="376.80" stroke="#333" stroke-width="0.9"/>
<text class="t" x="467.76" y="384.60" font-size="7.3" text-anchor="middle" fill="#222" color="#222">40</text>
<line x1="486.58" y1="373.40" x2="486.58" y2="375.00" stroke="#333" stroke-width="0.9"/>
<line x1="505.40" y1="373.40" x2="505.40" y2="376.80" stroke="#333" stroke-width="0.9"/>
<text class="t" x="505.40" y="384.60" font-size="7.3" text-anchor="middle" fill="#222" color="#222">60</text>
<line x1="524.22" y1="373.40" x2="524.22" y2="375.00" stroke="#333" stroke-width="0.9"/>
<line x1="543.04" y1="373.40" x2="543.04" y2="376.80" stroke="#333" stroke-width="0.9"/>
<text class="t" x="543.04" y="384.60" font-size="7.3" text-anchor="middle" fill="#222" color="#222">80</text>
<text transform="translate(313.10,279.00) rotate(-90)" font-size="8.7" text-anchor="middle" fill="#222" color="#222">Heat Flow (W/g)</text>
<text transform="translate(311.00,354.00) rotate(-90)" font-size="8.6" text-anchor="middle" fill="#222" color="#222">Exo Up</text>
<text x="430.80" y="397.10" font-size="8.85" text-anchor="middle" fill="#222" color="#222">Temperature (°C)</text>
<text x="293.25" y="223.3" font-size="11.3" font-weight="bold" fill="#111" style="stroke:none">(d)</text>
<line x1="464.50" y1="215.50" x2="486.00" y2="215.50" stroke="#333" stroke-width="1.0"/>
<text x="489.00" y="219.20" font-size="9.4" fill="#222" color="#222">ESBO-B<tspan font-size="6.39" dy="2.00" dx="0.5">1.0</tspan></text>
<line x1="464.50" y1="227.80" x2="486.00" y2="227.80" stroke="#ff3333" stroke-width="1.0"/>
<text x="489.00" y="230.90" font-size="9.4" fill="#222" color="#222">ESBO-B<tspan font-size="6.39" dy="2.00" dx="0.5">0.8</tspan></text>
<line x1="464.50" y1="240.00" x2="486.00" y2="240.00" stroke="#3333ff" stroke-width="1.0"/>
<text x="489.00" y="243.10" font-size="9.4" fill="#222" color="#222">ESBO-B<tspan font-size="6.39" dy="2.00" dx="0.5">0.6</tspan></text>
</svg></body></html>
